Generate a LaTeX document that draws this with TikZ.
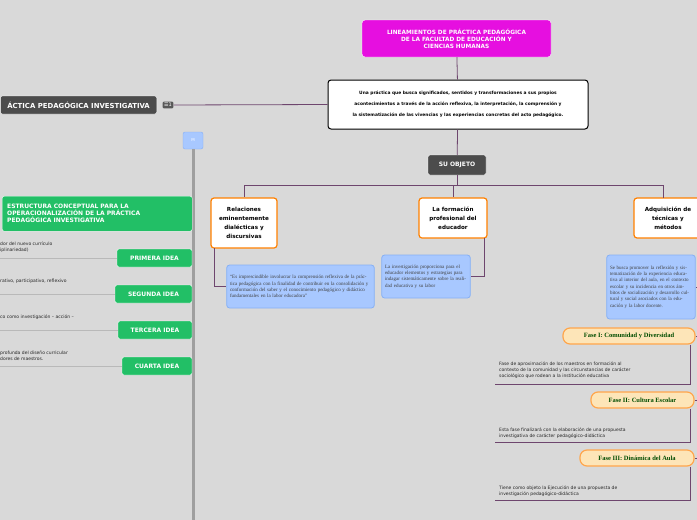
\documentclass[tikz,border=0pt]{standalone}
\usepackage{fontspec}
\setmainfont{DejaVu Sans}
\newfontfamily\serf{Liberation Serif}
\definecolor{gr}{HTML}{22BF66}
\definecolor{mg}{HTML}{E60FE0}
\definecolor{bl}{HTML}{A8C8FF}
\definecolor{blb}{HTML}{86B0F5}
\begin{document}
\begin{tikzpicture}[x=1pt,y=-1pt,
  lnk/.style={draw=black!30!violet!45!gray, line width=0.8pt},
  darkbox/.style={draw=white, fill=black!70, rounded corners=2pt, text=white, font=\fontsize{6}{7}\selectfont\bfseries, inner sep=2pt},
  greenbox/.style={draw=white, fill=gr, rounded corners=2pt, text=white, font=\fontsize{6}{7}\selectfont\bfseries, inner sep=2pt},
  orbox/.style={draw=orange, line width=1.2pt, fill=white, rounded corners=3pt, font=\fontsize{5.6}{9}\selectfont\bfseries, align=center},
  bluebox/.style={draw=blb, line width=0.8pt, fill=bl, rounded corners=3pt, font=\serf\fontsize{5}{6.3}\selectfont, align=left, text=black!75},
  fasebox/.style={draw=orange!70, line width=1.2pt, fill=yellow!25!orange!25!white, rounded corners=7pt, font=\serf\fontsize{6.5}{8}\selectfont\bfseries, text=green!30!black},
  small/.style={font=\fontsize{4.5}{6}\selectfont, align=left, anchor=north west, inner sep=0pt, text=black!85}]
\fill[gray!30!white] (0,0) rectangle (697,520);
\clip (0,0) rectangle (697,520);
\useasboundingbox (0,0) rectangle (697,520);
% top
\node[draw=white, fill=mg, rounded corners=3pt, text=white, font=\fontsize{5.8}{7}\selectfont\bfseries, align=center, minimum width=189pt, minimum height=37pt] (title) at (456.5,38.5) {LINEAMIENTOS DE PRÁCTICA PEDAGÓGICA\\DE LA FACULTAD DE EDUCACIÓN Y\\CIENCIAS HUMANAS};
\node[draw=black, line width=1pt, fill=white, rounded corners=3pt, font=\fontsize{4.4}{11}\selectfont\bfseries, align=center, minimum width=260pt, minimum height=49pt] (def) at (458,104.5) {Una práctica que busca significados, sentidos y transformaciones a sus propios\\acontecimientos a través de la acción reflexiva, la interpretación, la comprensión y\\la sistematización de las vivencias y las experiencias concretas del acto pedagógico.};
\draw[lnk] (title) -- (def);
\node[darkbox, anchor=east, minimum height=18pt, inner xsep=7pt, font=\fontsize{6.9}{8}\selectfont\bfseries] (pi) at (157,105) {ÁCTICA PEDAGÓGICA INVESTIGATIVA};
\node[fill=black!65, rounded corners=1pt, text=white, font=\fontsize{5}{6}\selectfont, inner sep=1.5pt] (ic) at (168,105) {☰1};
\draw[lnk] (ic.east) -- (def.west);
\node[darkbox, minimum width=58pt, minimum height=20pt] (obj) at (457,165) {SU OBJETO};
\draw[lnk] (def) -- (obj);
% orange
\node[orbox, minimum width=66pt, minimum height=50pt] (o1) at (244,223) {Relaciones\\eminentemente\\dialécticas y\\discursivas};
\node[orbox, minimum width=68pt, minimum height=40pt] (o2) at (453,218) {La formación\\profesional del\\educador};
\node[orbox, minimum width=68pt, minimum height=40pt] (o3) at (668,218) {Adquisición de\\técnicas y\\métodos};
\coordinate (h1) at (244,185); \coordinate (h3) at (663,185);
\draw[lnk] (obj) -- (457,185);
\draw[lnk] (h1) -- (h3);
\draw[lnk] (h1) -- (o1.north);
\draw[lnk] (453,185) -- (o2.north);
\draw[lnk] (h3) -- (663,198);
% blue
\node[bluebox, text width=141pt, minimum height=43pt] (b1) at (300.5,286.5) {“Es imprescindible involucrar la comprensión reflexiva de la práctica pedagógica con la finalidad de contribuir en la consolidación y conformación del saber y el conocimiento pedagógico y didáctico fundamentales en la labor educadora”};
\node[bluebox, text width=82pt, minimum height=43pt] (b2) at (426,276.5) {La investigación proporciona para el educador elementos y estrategias para indagar sistemáticamente sobre la realidad educativa y su labor};
\node[bluebox, text width=82pt, minimum height=64pt] (b3) at (651,287) {Se busca promover la reflexión y sistematización de la experiencia educativa al interior del aula, en el contexto escolar y su incidencia en otros ámbitos de socialización y desarrollo cultural y social asociados con la educación y la labor docente.};
\draw[lnk] (214,248) |- (b1.west);
\draw[lnk] (484,238) |- (b2.east);
\draw[lnk] (697,238) |- (b3.east);
% fases
\node[fasebox, minimum width=132pt, minimum height=16pt] (f1) at (629,336) {Fase I: Comunidad y Diversidad};
\node[fasebox, minimum width=103pt, minimum height=16pt] (f2) at (642.5,400) {Fase II: Cultura Escolar};
\node[fasebox, minimum width=114pt, minimum height=16pt] (f3) at (637,458) {Fase III: Dinámica del Aula};
\node[small] (t1) at (499,362) {Fase de aproximación de los maestros en formación al\\contexto de la comunidad y las circunstancias de carácter\\sociológico que rodean a la institución educativa};
\node[small] (t2) at (499,428) {Esta fase finalizará con la elaboración de una propuesta\\investigativa de carácter pedagógico-didáctica};
\node[small] (t3) at (499,486) {Tiene como objeto la Ejecución de una propuesta de\\investigación pedagógico-didáctica};
\draw[lnk] (f1.south -| 690,0) |- (495,384);
\draw[lnk] (f2.south -| 690,0) |- (495,442);
\draw[lnk] (f3.south -| 690,0) |- (495,500);
\draw[lnk] (697,336) -- (f1.east); \draw[lnk] (697,400) -- (f2.east); \draw[lnk] (697,458) -- (f3.east);
% left
\node[draw=blb, fill=bl, rounded corners=2pt, minimum width=20pt, minimum height=17pt, text=white, font=\fontsize{4}{5}\selectfont] (m) at (193,140.5) {M};
\draw[gray!75, line width=3pt] (m.south) -- (193,520);
\node[greenbox, anchor=north west, text width=180pt, inner xsep=5pt, minimum height=35pt, align=left] (est) at (2,196) {ESTRUCTURA CONCEPTUAL PARA LA\\OPERACIONALIZACIÓN DE LA PRÁCTICA\\PEDAGÓGICA INVESTIGATIVA};
\node[greenbox, minimum width=75pt, minimum height=18pt] (i1) at (154.5,258) {PRIMERA IDEA};
\node[greenbox, minimum width=77pt, minimum height=18pt] (i2) at (153.5,294) {SEGUNDA IDEA};
\node[greenbox, minimum width=74pt, minimum height=18pt] (i3) at (155,330) {TERCERA IDEA};
\node[greenbox, minimum width=70pt, minimum height=18pt] (i4) at (157,366) {CUARTA IDEA};
\node[small] at (0,242) {dor del nuevo currículo\\iplinariedad)};
\node[small] at (0,279) {rativo, participativo, reflexivo};
\node[small] at (0,315) {co como investigación – acción –};
\node[small] at (0,351) {profunda del diseño curricular\\dores de maestros.};
\foreach \i/\y in {i1/258,i2/294,i3/330,i4/366} \draw[gray!55, line width=0.8pt] (0,\y) -- (\i.west);
\end{tikzpicture}
\end{document}
